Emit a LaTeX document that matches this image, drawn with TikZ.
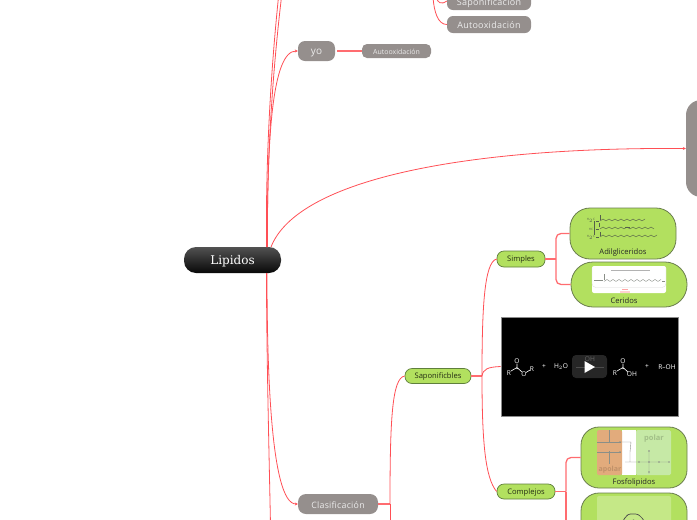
\documentclass[tikz,border=0pt]{standalone}
\usepackage{fontspec}
\setmainfont{Open Sans}
\newfontfamily\rootfont{DejaVu Serif}
\newfontfamily\spaced[LetterSpace=3]{Open Sans}
\usetikzlibrary{arrows.meta}
\definecolor{greyn}{HTML}{958F8D}
\definecolor{leaf}{HTML}{B2E05F}
\definecolor{leafline}{HTML}{5F7F3C}
\definecolor{cardline}{HTML}{6A7D4E}
\definecolor{wire}{HTML}{FF4F55}
\definecolor{stub}{HTML}{FF6C70}
\definecolor{chem}{HTML}{55604A}
\definecolor{softchem}{HTML}{8A8F88}
\definecolor{apolarfill}{HTML}{E2AB7C}
\definecolor{polarfill}{HTML}{C6E9A6}
\tikzset{
  grey node/.style={fill=greyn,text=white!92!black,rounded corners=#1,inner sep=0pt,align=center,text height=8.4pt,text depth=1.6pt},
  leaf node/.style={fill=leaf,draw=leafline,line width=.7pt,rounded corners=7pt,inner sep=0pt,text=black!80!leaf,font=\fontsize{7.6}{9}\selectfont,text height=7pt,text depth=1.6pt},
  card/.style={fill=leaf,draw=cardline,line width=.8pt,rounded corners=#1,inner sep=0pt},
  card text/.style={inner sep=0pt,text=black!85,font=\fontsize{7.6}{9}\selectfont,text height=7.6pt,text depth=1.6pt},
  wire line/.style={draw=wire,line width=.8pt},
  stub line/.style={draw=stub,line width=1.3pt},
  end tip/.style={-{Stealth[length=3pt,width=3pt]}},
  chain/.style={draw=chem,line width=.4pt},
  soft chain/.style={draw=softchem,line width=.4pt},
  vid/.style={inner sep=0pt,text=white,font=\fontsize{6.6}{7}\selectfont},
  small chem/.style={inner sep=0pt,text=chem,font=\fontsize{3}{3}\selectfont}
}
\newcommand{\zigzagline}[4]{%
  \pgfmathtruncatemacro\nseg{(#2-#1)/3}%
  \foreach \i in {1,...,\nseg}{%
    \pgfmathsetmacro\xa{#1+(\i-1)*3}%
    \pgfmathsetmacro\xb{#1+\i*3}%
    \pgfmathsetmacro\ya{#3+mod(\i,2)*1.9}%
    \pgfmathsetmacro\yb{#3+mod(\i+1,2)*1.9}%
    \draw[#4] (\xa,\ya) -- (\xb,\yb);
  }%
}
\begin{document}
\begin{tikzpicture}[x=1pt,y=-1pt]
\useasboundingbox (0,0) rectangle (697,520);
\clip (0,0) rectangle (697,520);

% ---- nodes
\node[minimum width=97pt,minimum height=26pt,rounded corners=12pt,top color=black!68,bottom color=black!97,inner sep=0pt,text=white,font=\rootfont\fontsize{12}{13}\selectfont,text height=10.5pt,text depth=2pt] (lip) at (232.5,260) {Lipidos};
\node[grey node=7pt,minimum width=37pt,minimum height=20pt,font=\fontsize{10}{11}\selectfont] (yo) at (316.5,51) {yo};
\node[grey node=5pt,minimum width=69pt,minimum height=14pt,font=\fontsize{7}{8}\selectfont,text height=8pt,text depth=1.4pt] (auA) at (396.5,51) {Autooxidación};
\node[grey node=6pt,minimum width=84pt,minimum height=18pt,font=\spaced\fontsize{9}{11}\selectfont,text height=10pt,text depth=2pt] (sapT) at (489,1) {Saponificación};
\node[grey node=6pt,minimum width=84pt,minimum height=17pt,font=\spaced\fontsize{9}{11}\selectfont,text height=9pt,text depth=2pt] (auB) at (489,24.5) {Autooxidación};
\node[grey node=15pt,minimum width=60pt,minimum height=97pt] (big) at (716,148.5) {};
\node[grey node=8pt,minimum width=80pt,minimum height=20pt,font=\spaced\fontsize{8.8}{11}\selectfont,text height=10.5pt,text depth=2pt] (cla) at (338,504) {Clasificación};
\node[leaf node,minimum width=66pt,minimum height=15pt] (sap) at (438,376) {Saponificbles};
\node[leaf node,minimum width=48pt,minimum height=16pt] (sim) at (521,259) {Simples};
\node[leaf node,minimum width=58pt,minimum height=15pt] (com) at (526,491.5) {Complejos};
\node[card=20pt,minimum width=106pt,minimum height=51pt] (adi) at (623,233.5) {};
\node[card=22pt,minimum width=116pt,minimum height=45pt] (cer) at (629,284.5) {};
\node[fill=black,draw=black!45,line width=.6pt,minimum width=177pt,minimum height=99pt,inner sep=0pt] (vid) at (589.5,366.5) {};
\node[card=18pt,minimum width=106pt,minimum height=61pt] (fos) at (634,457.5) {};
\node[card=18pt,minimum width=106pt,minimum height=70pt] (cam) at (634,528) {};

% ---- connector points
\coordinate (rootA) at (266.5,247);
\coordinate (rootB) at (267.5,247);
\coordinate (rootC) at (271,247);
\coordinate (rootD) at (266.5,273);
\coordinate (rootE) at (267,273);
\coordinate (upA) at (278.5,-3);
\coordinate (upB) at (281.5,-3);
\coordinate (downA) at (270.5,525);
\coordinate (claHub) at (390,504);
\coordinate (claDown) at (390,525);
\coordinate (sapHub) at (482,376);
\coordinate (simHub) at (556,259);
\coordinate (comHub) at (566,491.5);
\coordinate (comDown) at (566,525);
\coordinate (topA) at (433,-3);
\coordinate (topB) at (436,-3);

% ---- connectors
\draw[wire line] (rootA) .. controls (265.5,150) and (272,60) .. (upA);
\draw[wire line] (rootB) .. controls (266.5,150) and (274,60) .. (upB);
\draw[wire line,end tip] (rootB) .. controls (267,140) and (272,51) .. (yo.west);
\draw[wire line,end tip] (rootC) .. controls (298,178) and (470,147) .. (big.west);
\draw[wire line] (rootD) .. controls (266.5,350) and (269,450) .. (downA);
\draw[wire line,end tip] (rootE) .. controls (267,360) and (270,504) .. (cla.west);
\draw[stub line] (yo.east) ++(2,0) -- (auA.west);
\draw[wire line] (topA) .. controls (434,12) and (438,24.5) .. (auB.west);
\draw[wire line] (topB) .. controls (438,3) and (441,5) .. (sapT.west);
\draw[stub line] (cla.east) -- (claHub);
\draw[wire line] (claHub) .. controls (390,420) and (392,378) .. (sap.west);
\draw[wire line] (claHub) -- (claDown);
\draw[stub line] (sap.east) -- (sapHub);
\draw[wire line] (sapHub) .. controls (482,310) and (484,262) .. (sim.west);
\draw[wire line] (sapHub) .. controls (482,440) and (485,478) .. (com.west);
\draw[wire line] (sapHub) .. controls (483,369) and (488,367) .. (vid.west);
\draw[stub line] (sim.east) -- (simHub);
\draw[stub line,rounded corners=5pt] (simHub) |- (adi.west);
\draw[stub line,rounded corners=5pt] (simHub) |- (cer.west);
\draw[stub line] (com.east) -- (comHub);
\draw[stub line,rounded corners=5pt] (comHub) |- (fos.west);
\draw[stub line] (comHub) -- (comDown);

% ---- card labels
\node[card text] (adiL) at (623,251.5) {Adilgliceridos};
\node[card text] (cerL) at (624,300.5) {Ceridos};
\node[card text] (fosL) at (634,481.5) {Fosfolipidos};

% ---- Adilgliceridos picture
\zigzagline{600}{647}{219}{chain}
\zigzagline{600}{655}{227}{chain}
\zigzagline{600}{658}{235}{chain}
\draw[chain] (600,220) -- (600,215) (599,227) -- (599,223) (600,236) -- (600,232);
\draw[chain] (594,221) -- (594,235) (596,221) -- (599,221) (596,229) -- (599,229) (596,237) -- (599,237);
\draw[chain,line width=.8pt] (625,227) -- (630,227);
\node[small chem] at (591,220.5) {H$_2$C};
\node[small chem] at (591,229) {HC};
\node[small chem] at (591,237.5) {H$_2$C};

% ---- Ceridos picture
\fill[white,rounded corners=2pt] (592,266) rectangle (666,293);
\draw[black!15,line width=.3pt,rounded corners=4pt] (592,268) -- (592,287.5) -- (666,287.5) -- (666,268);
\draw[black!30,line width=.6pt] (611,270.5) -- (650,270.5);
\zigzagline{604}{661}{279.5}{soft chain}
\draw[soft chain] (594,280) -- (603,280) (604,280) -- (604,274);
\draw[soft chain,line width=.7pt] (662,281) -- (665,281);
\fill[red!35] (622,288.5) rectangle (628,290);
\fill[red!18] (620,291) rectangle (630,293);

% ---- video
\node[vid] (oA) at (517,361) {O};
\node[vid] (rA) at (509,373) {R};
\node[vid] (oB) at (524,374) {O};
\node[vid] (rB) at (532,369) {R};
\draw[white,line width=.6pt] (oA) -- +(0,8) (511,371) -- (517,367.5) -- (522,372) (526,372.5) -- (530,370);
\node[vid] at (544,367) {+};
\node[vid] at (561,367) {H$_2$O};
\fill[white!15!black,rounded corners=4pt] (572,355) rectangle (607,378);
\draw[black!70,line width=.4pt] (576,367) -- (604,367);
\node[vid,text=black!60] at (590,359.5) {OH};
\fill[white] (584.5,361) -- (584.5,373) -- (595,367) -- cycle;
\node[vid] (oC) at (623,361) {O};
\node[vid] (rC) at (615,373) {R};
\node[vid] (oD) at (632,374) {OH};
\draw[white,line width=.6pt] (oC) -- +(0,8) (617,371) -- (623,367.5) -- (628,372);
\node[vid] at (647,367) {+};
\node[vid] at (667,367) {R–OH};

% ---- Fosfolipidos picture
\fill[white] (622,430) rectangle (636,475);
\fill[apolarfill,rounded corners=1.5pt] (597,430) -- (622,430) -- (622,475) -- (597,475) -- cycle;
\fill[polarfill,rounded corners=1.5pt] (636,430) -- (671,430) -- (671,475) -- (636,475) -- cycle;
\node[inner sep=0pt,text=black!15!apolarfill,font=\bfseries\fontsize{7}{8}\selectfont] at (610,470) {apolar};
\node[inner sep=0pt,text=black!18!polarfill,font=\bfseries\fontsize{7.5}{8}\selectfont] at (654,438.5) {polar};
\draw[softchem,line width=.4pt] (597,442) -- (621,442) (597,452) -- (621,452) (609,430) -- (609,443) (609,451) -- (609,464);
\draw[softchem,line width=.9pt] (609,431) -- (609,440) (609,453) -- (609,463);
\draw[softchem,line width=.4pt] (621,442) -- (631,442) -- (630,452) -- (630,462) -- (625,462) (627,462) -- (668,462) (649,450) -- (649,474);
\fill[softchem] (620,442) circle (.9pt) (620,452) circle (.9pt) (639,462) circle (.9pt) (649,462) circle (.9pt) (659,462) circle (.9pt) (669,462) circle (.9pt) (649,451) circle (.9pt) (649,472) circle (.9pt);

% ---- photo placeholder
\fill[leaf!75!white,rounded corners=2pt] (597,496) rectangle (671,530);
\draw[black!70,line width=.7pt,rounded corners=2.5pt] (623,520) -- (626,517) -- (628,514) -- (638,514) -- (641,517) -- (644,520) -- (644,530) -- (623,530) -- cycle;
\draw[black!70,line width=.7pt] (633.5,524) circle (4pt);
\end{tikzpicture}
\end{document}
